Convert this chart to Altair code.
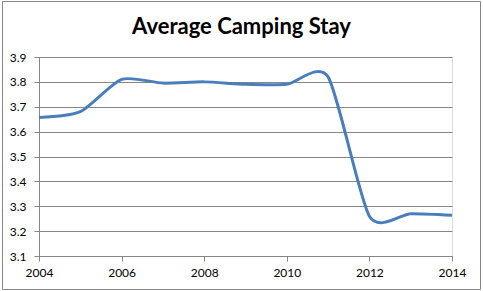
import altair as alt
import pandas as pd

years = [2004, 2005, 2006, 2007, 2008, 2009, 2010, 2011, 2012, 2013, 2014]
stay = [3.657, 3.68, 3.81, 3.795, 3.80, 3.79, 3.79, 3.82, 3.26, 3.27, 3.264]
y_ticks = [3.1, 3.2, 3.3, 3.4, 3.5, 3.6, 3.7, 3.8, 3.9]
x_ticks = [2004, 2006, 2008, 2010, 2012, 2014]
chart_title = "Average Camping Stay"

df = pd.DataFrame({"year": years, "stay": stay})

GRAY = "#868686"
FONT = "Lato"

line = alt.Chart(df).mark_line(
    color="#4A7EBB", strokeWidth=3, interpolate="cardinal", tension=0.3
).encode(
    x=alt.X(
        "year:Q",
        scale=alt.Scale(domain=[2004, 2014], nice=False, zero=False),
        axis=alt.Axis(
            values=x_ticks, format="d", title=None, grid=False,
            domainColor=GRAY, tickColor=GRAY, tickSize=5,
            labelFont=FONT, labelFontSize=12, labelColor="black",
            labelPadding=6, labelFlush=False,
        ),
    ),
    y=alt.Y(
        "stay:Q",
        scale=alt.Scale(domain=[3.1, 3.9], nice=False, zero=False),
        axis=alt.Axis(
            values=y_ticks, format=".1f", title=None, grid=True,
            gridColor=GRAY, domainColor=GRAY, tickColor=GRAY, tickSize=5,
            labelFont=FONT, labelFontSize=12, labelColor="black",
            labelPadding=8,
        ),
    ),
)

border = alt.Chart(pd.DataFrame({"a": [0]})).mark_rect(
    fillOpacity=0, stroke=GRAY, strokeWidth=1, clip=False
).encode(
    x=alt.value(-36.5), x2=alt.value(441.5), y=alt.value(-55.5), y2=alt.value(232.5)
)

title = alt.Chart(pd.DataFrame({"t": [chart_title]})).mark_text(
    font=FONT, fontSize=22, fontWeight="bold", color="black",
    align="center", baseline="alphabetic", clip=False,
).encode(
    text="t:N", x=alt.value(202.5), y=alt.value(-23.5)
)

chart = alt.layer(border, line, title).properties(
    width=413,
    height=199,
    autosize=alt.AutoSizeParams(type="none"),
    padding={"left": 39, "top": 57, "right": 31, "bottom": 35},
).configure_view(stroke=None).configure(background="white")

chart.save("out.html", embed_options={"renderer": "svg", "actions": False})
